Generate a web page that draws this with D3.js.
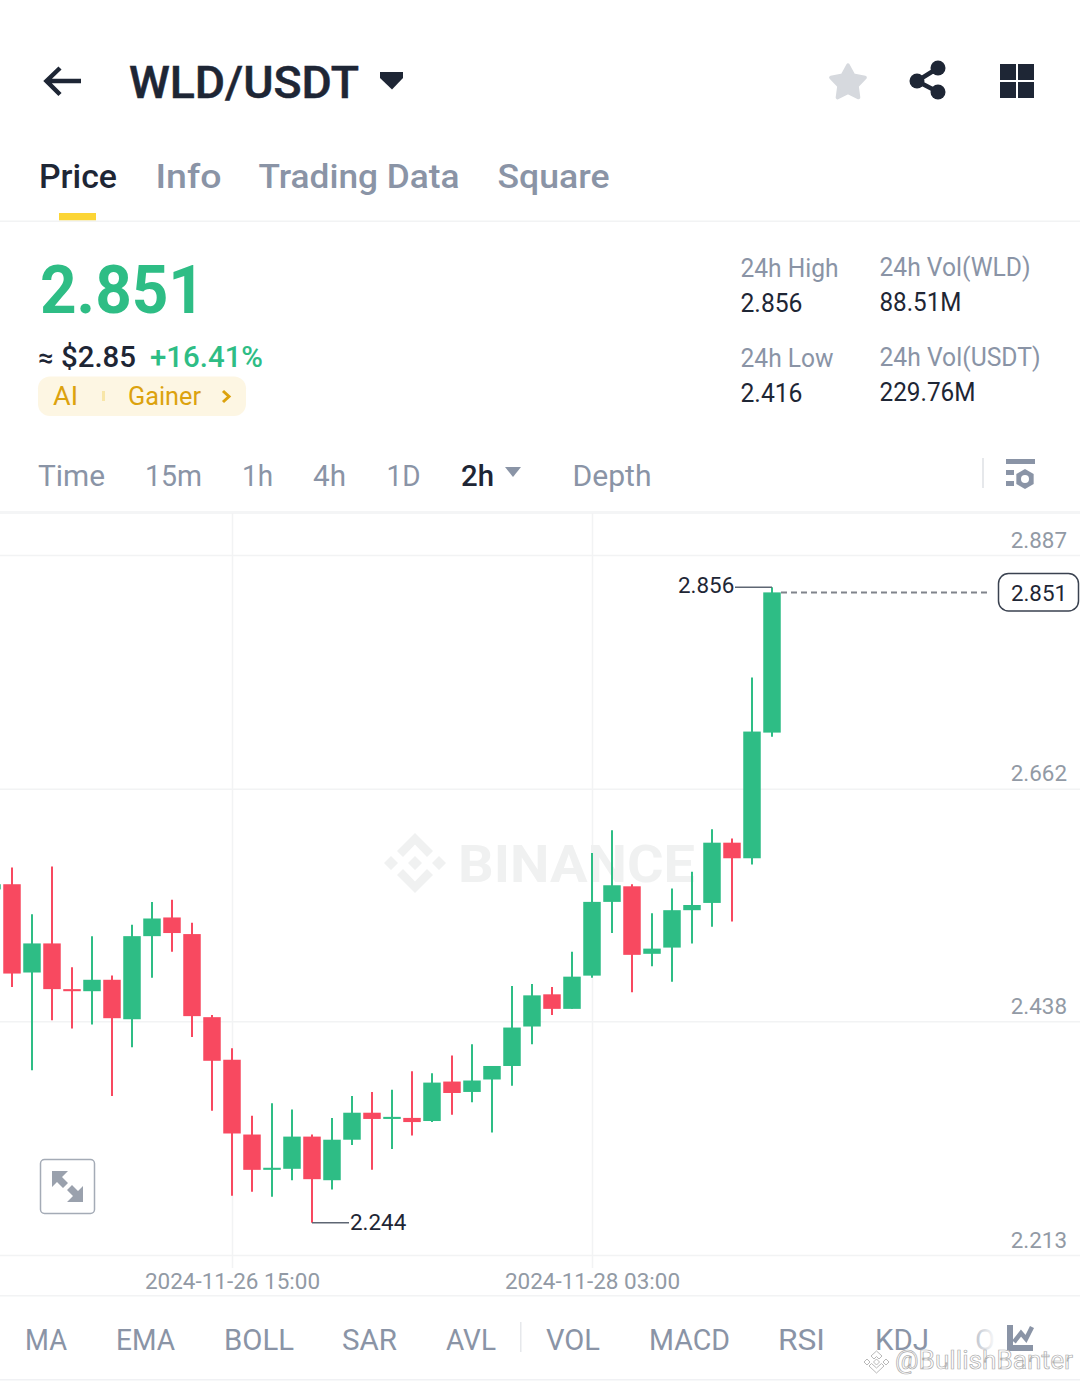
<!DOCTYPE html>
<html><head><meta charset="utf-8">
<script src="https://cdn.jsdelivr.net/npm/d3@7"></script>
<style>
html,body{margin:0;padding:0;background:#fff;overflow:hidden}
svg{display:block}
text{font-family:Roboto,"Noto Sans",sans-serif}
</style></head><body><div id="c"></div>
<script>
// candle index -1 is the sliver clipped on the left edge
const candleIndex=[-1,0,1,2,3,4,5,6,7,8,9,10,11,12,13,14,15,16,17,18,19,20,21,22,23,24,25,26,27,28,29,30,31,32,33,34,35,36,37,38];
const opens =[2.565,2.570,2.485,2.513,2.469,2.467,2.478,2.440,2.520,2.538,2.522,2.442,2.401,2.329,2.295,2.296,2.327,2.285,2.324,2.350,2.344,2.345,2.342,2.380,2.370,2.382,2.395,2.433,2.464,2.450,2.482,2.553,2.568,2.503,2.509,2.545,2.552,2.610,2.595,2.716];
const closes=[2.570,2.484,2.513,2.469,2.467,2.478,2.441,2.520,2.537,2.523,2.443,2.400,2.330,2.295,2.297,2.327,2.286,2.324,2.350,2.344,2.346,2.341,2.379,2.369,2.381,2.395,2.432,2.463,2.450,2.481,2.553,2.569,2.502,2.508,2.545,2.550,2.610,2.595,2.717,2.851];
const highs =[2.585,2.586,2.541,2.587,2.490,2.520,2.482,2.531,2.553,2.555,2.533,2.444,2.412,2.347,2.359,2.353,2.329,2.345,2.366,2.370,2.372,2.390,2.388,2.405,2.416,2.395,2.472,2.474,2.471,2.505,2.600,2.622,2.570,2.542,2.566,2.582,2.623,2.614,2.769,2.856];
const lows  =[2.560,2.471,2.391,2.439,2.431,2.435,2.366,2.413,2.480,2.505,2.423,2.352,2.270,2.274,2.269,2.285,2.244,2.276,2.319,2.295,2.315,2.328,2.341,2.348,2.360,2.331,2.376,2.416,2.444,2.450,2.480,2.523,2.466,2.491,2.476,2.513,2.529,2.534,2.589,2.712];
const priceTicks=[2.887,2.662,2.438,2.213];
const timeTickIndex=[11,29];
const timeTickLabels=["2024-11-26 15:00","2024-11-28 03:00"];
const lastPrice=2.851, maxPrice=2.856, minPrice=2.244;
const tabs=["Price","Info","Trading Data","Square"];
const intervals=["Time","15m","1h","4h","1D","2h","Depth"];
const indicators=["MA","EMA","BOLL","SAR","AVL","VOL","MACD","RSI","KDJ"];

const GREEN="#2EBD85",RED="#F84960",DARK="#1E2635",GRAY="#8A94A6",AXIS="#929AA5",GRID="#F2F3F4";
const W=1080,H=1383;
const svg=d3.select("#c").append("svg").attr("width",W).attr("height",H).attr("viewBox",`0 0 ${W} ${H}`);
const defs=svg.append("defs");
const fade=defs.append("linearGradient").attr("id","fade");
fade.append("stop").attr("offset","0").attr("stop-color",GRAY).attr("stop-opacity",.55);
fade.append("stop").attr("offset","1").attr("stop-color",GRAY).attr("stop-opacity",.05);

function T(x,y,s,size,fill,weight,anchor,len){
  const t=svg.append("text").attr("x",x).attr("y",y).text(s).attr("font-size",size).attr("fill",fill)
    .attr("font-weight",weight||400).attr("text-anchor",anchor||"start");
  if(len)t.attr("textLength",len).attr("lengthAdjust","spacingAndGlyphs");
  return t;
}
// header
svg.append("path").attr("d","M81 81H47M60 68L46.500 81L60 94.500").attr("fill","none").attr("stroke",DARK).attr("stroke-width",4.500);
T(129,98,"WLD/USDT",44,DARK,500,"start",230).attr("stroke",DARK).attr("stroke-width",.5);
svg.append("path").attr("d","M380 72H403V78L392 89.500L380 78Z").attr("fill",DARK);
// star
const star=d3.range(10).map(i=>{const r=i%2?9.500:18,a=-Math.PI/2+i*Math.PI/5;return [848+r*Math.cos(a),83+r*Math.sin(a)];});
svg.append("path").attr("d",d3.line()(star)+"Z").attr("fill","#D6D9DE").attr("stroke","#D6D9DE").attr("stroke-width",3.500).attr("stroke-linejoin","round");
// share
svg.append("path").attr("d","M938 68L917 81L938 92").attr("fill","none").attr("stroke",DARK).attr("stroke-width",4.500);
[[938,68],[917,81],[938,92]].forEach(p=>svg.append("circle").attr("cx",p[0]).attr("cy",p[1]).attr("r",7.500).attr("fill",DARK));
// grid icon
[[1000,64],[1018,64],[1000,82],[1018,82]].forEach(p=>svg.append("rect").attr("x",p[0]).attr("y",p[1]).attr("width",16).attr("height",16).attr("fill",DARK));
// tabs
const tabX=[39,155.500,258.500,497.500],tabLen=[78,66,201,112];
tabs.forEach((s,i)=>T(tabX[i],188,s,34,i?GRAY:DARK,500,"start",tabLen[i]));
svg.append("rect").attr("x",59).attr("y",213).attr("width",37).attr("height",7.500).attr("fill","#FCD535");
svg.append("rect").attr("x",0).attr("y",220.500).attr("width",W).attr("height",1.500).attr("fill",GRID);
// price block
T(40,313,"2.851",67,GREEN,700,"start",165);
T(38,367,"≈",27,DARK,500);
T(61,367,"$2.85",29,DARK,500,"start",75);
T(150,367,"+16.41%",29,GREEN,500,"start",113);
svg.append("rect").attr("x",38).attr("y",376.500).attr("width",208).attr("height",39.500).attr("rx",12).attr("fill","#FDF6E3");
T(53,405,"AI",25,"#DCA20E",400,"start",25);
svg.append("rect").attr("x",102).attr("y",391).attr("width",3).attr("height",10).attr("fill","#F8E6A8");
T(128,405,"Gainer",25,"#DCA20E",400,"start",73);
svg.append("path").attr("d","M223 391L229 396.500L223 402").attr("fill","none").attr("stroke","#DCA20E").attr("stroke-width",3);
// stats
T(740.500,277,"24h High",26,GRAY,400,"start",98);
T(740.500,312,"2.856",26,DARK,400,"start",62);
T(879.500,276,"24h Vol(WLD)",26,GRAY,400,"start",151);
T(879.500,311,"88.51M",26,DARK,400,"start",82);
T(740.500,367,"24h Low",26,GRAY,400,"start",93);
T(740.500,402,"2.416",26,DARK,400,"start",62);
T(879.500,366,"24h Vol(USDT)",26,GRAY,400,"start",161);
T(879.500,401,"229.76M",26,DARK,400,"start",96);
// intervals
const intX=[38,145,242,313,386.500,461,572.500],intLen=[67,57,31,33,34,33,79];
intervals.forEach((s,i)=>T(intX[i],486,s,30,i===5?DARK:GRAY,i===5?500:400,"start",intLen[i]));
svg.append("path").attr("d","M505 467H521L513 477Z").attr("fill",GRAY);
svg.append("rect").attr("x",982).attr("y",458).attr("width",2).attr("height",30).attr("fill","#E6E8EB");
svg.append("rect").attr("x",1006).attr("y",459).attr("width",29).attr("height",5).attr("fill",GRAY);
svg.append("rect").attr("x",1006).attr("y",470).attr("width",8).attr("height",5).attr("fill",GRAY);
svg.append("rect").attr("x",1006).attr("y",481).attr("width",8).attr("height",5).attr("fill",GRAY);
const hex=d3.range(6).map(i=>{const a=-Math.PI/2+i*Math.PI/3;return [1025+10*Math.cos(a),479+10*Math.sin(a)];});
svg.append("path").attr("d",d3.line()(hex)+"Z").attr("fill",GRAY);
svg.append("circle").attr("cx",1025).attr("cy",479).attr("r",4).attr("fill","#fff");
svg.append("rect").attr("x",0).attr("y",511).attr("width",W).attr("height",3).attr("fill","#F4F5F6");

// scales
const y=d3.scaleLinear().domain([2.213,2.887]).range([1255,555]);
const x=d3.scaleLinear().domain([-1,38]).range([-8,772]);

// vertical grid + time axis
const xAxis=d3.axisBottom(x).tickValues(timeTickIndex).tickSize(-755).tickPadding(0)
  .tickFormat((d,i)=>timeTickLabels[i]);
const gx=svg.append("g").attr("transform","translate(0,1268)").call(xAxis);
gx.select(".domain").remove();
gx.selectAll("line").attr("stroke",GRID).attr("stroke-width",1.500);
gx.selectAll("text").attr("font-size",22.500).attr("fill",AXIS).attr("y",0).attr("dy",20.500).style("font-family","Roboto");

// horizontal grid + price axis
const yAxis=d3.axisRight(y).tickValues(priceTicks).tickSize(W).tickFormat(d3.format(".3f"));
const gy=svg.append("g").call(yAxis);
gy.select(".domain").remove();
gy.selectAll("line").attr("stroke",GRID).attr("stroke-width",1.500);
gy.selectAll("text").attr("x",1067).attr("dy",-8).attr("text-anchor","end").attr("font-size",22.400).attr("fill",AXIS).style("font-family","Roboto");

// watermark
const wm=svg.append("g").attr("fill","#F0F1F1");
T(458,882,"BINANCE",52,"#F0F1F1",700,"start",237);
wm.append("path").attr("d","M415 833L433 851L427 857L415 844.500L403 857L397 851Z M415 893L397 875L403 869L415 881.500L427 869L433 875Z M391 856L398 863L391 870L384 863Z M439 856L446 863L439 870L432 863Z M415 856L422 863L415 870L408 863Z");

// candles
const bodyW=17.500;
const candles=svg.append("g").selectAll("g").data(candleIndex).join("g");
const col=i=>closes[i]>=opens[i]?GREEN:RED;
candles.append("line").attr("x1",d=>x(d)).attr("x2",d=>x(d))
  .attr("y1",(d,i)=>y(highs[i])).attr("y2",(d,i)=>y(lows[i]))
  .attr("stroke",(d,i)=>col(i)).attr("stroke-width",2);
candles.append("rect").attr("x",d=>x(d)-bodyW/2).attr("width",bodyW)
  .attr("y",(d,i)=>y(Math.max(opens[i],closes[i])))
  .attr("height",(d,i)=>Math.max(2,Math.abs(y(opens[i])-y(closes[i]))))
  .attr("fill",(d,i)=>col(i));

// annotations
svg.append("path").attr("d",`M${x(38)} ${y(maxPrice)}H735`).attr("fill","none").attr("stroke","#5E6673").attr("stroke-width",1.500);
T(678,593,d3.format(".3f")(maxPrice),22.400,DARK,400);
svg.append("path").attr("d",`M${x(15)} ${y(minPrice)}H349`).attr("fill","none").attr("stroke","#5E6673").attr("stroke-width",1.500);
T(350,1229.500,d3.format(".3f")(minPrice),22.400,DARK,400);
svg.append("line").attr("x1",781).attr("x2",988).attr("y1",y(lastPrice)).attr("y2",y(lastPrice))
  .attr("stroke","#80848C").attr("stroke-width",2).attr("stroke-dasharray","6 4");
svg.append("rect").attr("x",998.500).attr("y",573.500).attr("width",80).attr("height",37.500).attr("rx",10).attr("fill","#fff").attr("stroke","#3A4250").attr("stroke-width",1.500);
T(1039,601,d3.format(".3f")(lastPrice),22.400,DARK,400,"middle");

// expand button
svg.append("rect").attr("x",40.500).attr("y",1159.500).attr("width",54).attr("height",54).attr("rx",4).attr("fill","#fff").attr("stroke","#A4ABB6").attr("stroke-width",1.500);
svg.append("path").attr("d","M52 1171H68L62 1177L68 1183L63 1188L57 1182L52 1187Z M83 1202H67L73 1196L67 1190L72 1185L78 1191L83 1186Z").attr("fill","#9AA1AD");

// bottom
svg.append("rect").attr("x",0).attr("y",1295).attr("width",W).attr("height",1.500).attr("fill",GRID);
const indX=[25,116,224,342,446,546,649,778,875],indLen=[42,59,70,55,50,54,81,47,54];
indicators.forEach((s,i)=>T(indX[i],1350,s,29,GRAY,400,"start",indLen[i]));
T(975,1350,"O",29,"url(#fade)",400);
svg.append("rect").attr("x",520).attr("y",1322).attr("width",1.500).attr("height",30).attr("fill","#E6E8EB");
svg.append("path").attr("d","M1007 1325H1013V1345H1033V1351H1007Z").attr("fill",GRAY);
svg.append("path").attr("d","M1014 1342L1021 1333L1026 1339L1032 1327").attr("fill","none").attr("stroke",GRAY).attr("stroke-width",4.500);
svg.append("rect").attr("x",0).attr("y",1379).attr("width",W).attr("height",1.500).attr("fill","#F0F1F4");
// outlined watermark of the poster
T(895,1368.500,"@BullishBanter",26,"#fff",400,"start",178).attr("stroke","#ABABAB").attr("stroke-width",.7);
svg.append("path").attr("d","M876.500 1351L882 1356L879 1359L876.500 1356.500L874 1359L871 1356Z M876.500 1373L869 1366L871.500 1363.500L876.500 1368L881.500 1363.500L884 1366Z M867 1359L870 1362L867 1365L864 1362Z M886 1359L889 1362L886 1365L883 1362Z M876.500 1359L879.500 1362L876.500 1365L873.500 1362Z").attr("fill","#fff").attr("stroke","#B0B0B0").attr("stroke-width",.9);
</script></body></html>
